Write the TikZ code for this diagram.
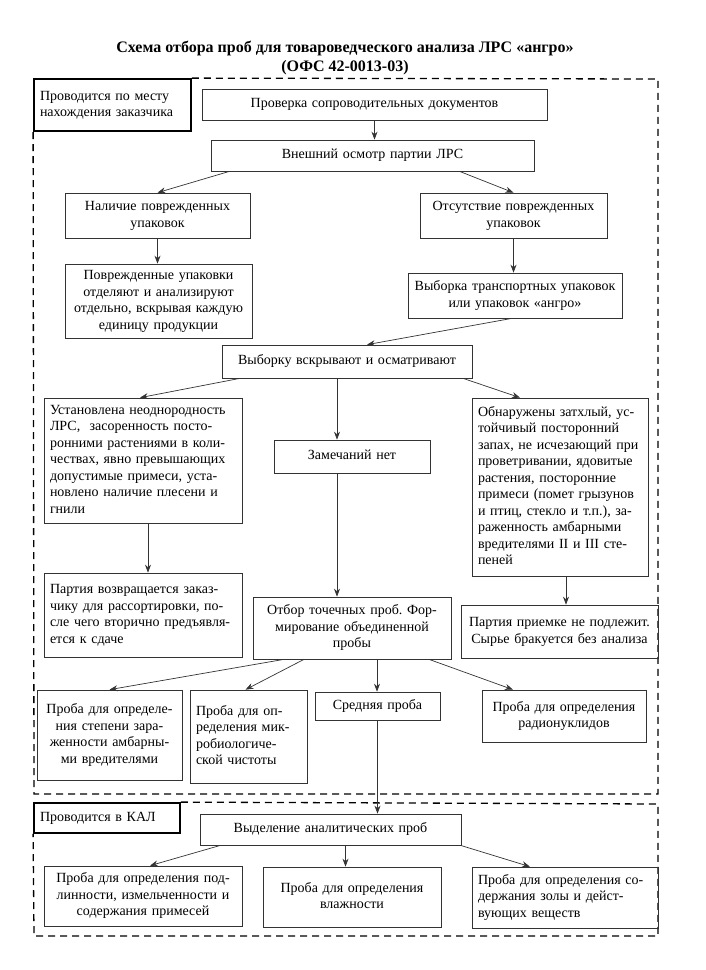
\documentclass[tikz,border=0pt]{standalone}
\usepackage{fontspec}
\setmainfont{Liberation Serif}
\usetikzlibrary{arrows.meta}
\frenchspacing

\tikzset{
box/.style={draw=black!80, line width=0.7pt, inner xsep=6pt, inner ysep=2pt, align=center, font=\fontsize{14}{16.5}\selectfont},
lbox/.style={align=left},
tagbox/.style={align=left, line width=1.8pt, draw=black},
arr/.style={-{Stealth[length=8pt,width=6pt]}, line width=0.7pt, draw=black!80},
region/.style={line width=1.3pt, dash pattern=on 7pt off 5pt},
}

% [options]{name}{x}{y}{width}{height}{l/c}{text}
\newcommand{\drawbox}[8][]{%
\pgfmathsetmacro{\boxtw}{#5-12}%
\node[box,minimum width=#5,minimum height=#6,text width=\boxtw pt,#1] (#2) at ({#3+#5/2},{#4+#6/2})
{\begin{tabular}{@{}#7@{}}#8\end{tabular}};
}

\begin{document}
\begin{tikzpicture}[x=1pt,y=-1pt]
\useasboundingbox (0,0) rectangle (705,970);

\node[align=center, font=\bfseries\fontsize{16}{19}\selectfont] (title) at (345,58)
{Схема отбора проб для товароведческого анализа ЛРС «ангро»\\(ОФС 42-0013-03)};

% upper part: at the customer
\drawbox[tagbox]{where}{34}{79}{157}{52}{l}{Проводится по месту\\нахождения заказчика}
\draw[region] (where.north east) -- (658,79) -- (658,794) -- (34,794) -- (where.south west);

\drawbox{check}{202}{89}{345}{31}{c}{Проверка сопроводительных документов}
\drawbox{outer}{211}{140}{323}{31}{c}{Внешний осмотр партии ЛРС}
\drawbox{damaged}{65}{193}{185}{45}{c}{Наличие поврежденных\\упаковок}
\drawbox{intact}{420}{193}{187}{45}{c}{Отсутствие поврежденных\\упаковок}
\drawbox{separate}{65}{264}{187}{74}{c}{Поврежденные упаковки\\отделяют и анализируют\\отдельно, вскрывая каждую\\единицу продукции}
\drawbox{sample}{408}{273}{214}{45}{c}{Выборка транспортных упаковок\\или упаковок «ангро»}
\drawbox{opened}{222}{345}{250}{33}{c}{Выборку вскрывают и осматривают}

\drawbox[lbox]{uneven}{44}{398}{198}{125}{l}{Установлена неоднородность\\ЛРС,\ \ засоренность посто-\\ронними растениями в коли-\\чествах, явно превышающих\\допустимые примеси, уста-\\новлено наличие плесени и\\гнили}
\drawbox{noremark}{274}{440}{156}{33}{c}{Замечаний нет}
\drawbox[lbox]{musty}{472}{398}{176}{178}{l}{Обнаружены затхлый, ус-\\тойчивый посторонний\\запах, не исчезающий при\\проветривании, ядовитые\\растения, посторонние\\примеси (помет грызунов\\и птиц, стекло и т.п.), за-\\раженность амбарными\\вредителями II и III сте-\\пеней}

\drawbox[lbox]{returned}{44}{573}{198}{84}{l}{Партия возвращается заказ-\\чику для рассортировки, по-\\сле чего вторично предъявля-\\ется к сдаче}
\drawbox{pooled}{253}{597}{198}{62}{c}{Отбор точечных проб. Фор-\\мирование объединенной\\пробы}
\drawbox{rejected}{461}{605}{197}{53}{c}{Партия приемке не подлежит.\\Сырье бракуется без анализа}

\drawbox{pests}{37}{690}{145}{90}{c}{Проба для определе-\\ния степени зара-\\женности амбарны-\\ми вредителями}
\drawbox[lbox]{micro}{190}{690}{117}{93}{l}{Проба для оп-\\ределения мик-\\робиологиче-\\ской чистоты}
\drawbox{average}{315}{692}{125}{28}{c}{Средняя проба}
\drawbox{radio}{482}{690}{164}{52}{c}{Проба для определения\\радионуклидов}

% lower part: in the lab
\drawbox[tagbox]{lab}{34}{803}{146}{30}{l}{Проводится в КАЛ}
\draw[region] (lab.north east) -- (658,804) -- (658,936) -- (34,936) -- (lab.south west);

\drawbox{analytic}{200}{814}{261}{31}{c}{Выделение аналитических проб}
\drawbox{identity}{44}{866}{198}{60}{c}{Проба для определения под-\\линности, измельченности и\\содержания примесей}
\drawbox{moisture}{263}{867}{178}{60}{c}{Проба для определения\\влажности}
\drawbox[lbox]{ash}{472}{867}{186}{61}{l}{Проба для определения со-\\держания золы и дейст-\\вующих веществ}

% arrows
\draw[arr] (check.south) -- (check.south |- outer.north);
\draw[arr] ([xshift=-143pt]outer.south) -- (damaged.north);
\draw[arr] ([xshift=87pt]outer.south) -- (intact.north);
\draw[arr] (damaged.south) -- (damaged.south |- separate.north);
\draw[arr] (intact.south) -- (intact.south |- sample.north);
\draw[arr] ([xshift=-3pt]sample.south) -- ([xshift=20pt]opened.north);
\draw[arr] ([xshift=-107pt]opened.south) -- ([xshift=-3pt]uneven.north);
\draw[arr] ([xshift=-10pt]opened.south) -- ([xshift=-10pt]opened.south |- noremark.north);
\draw[arr] ([xshift=116pt]opened.south) -- ([xshift=-40pt]musty.north);
\draw[arr] ([xshift=5pt]uneven.south) -- ([xshift=5pt]uneven.south |- returned.north);
\draw[arr] ([xshift=-15pt]noremark.south) -- ([xshift=-15pt]noremark.south |- pooled.north);
\draw[arr] ([xshift=6pt]musty.south) -- ([xshift=6pt]musty.south |- rejected.north);
\draw[arr] ([xshift=-68pt]pooled.south) -- (pests.north);
\draw[arr] ([xshift=-48pt]pooled.south) -- ([xshift=-3pt]micro.north);
\draw[arr] ([xshift=25pt]pooled.south) -- ([xshift=25pt]pooled.south |- average.north);
\draw[arr] ([xshift=77pt]pooled.south) -- ([xshift=-51pt]radio.north);
\draw[arr] (average.south) -- (average.south |- analytic.north);
\draw[arr] ([xshift=-110pt]analytic.south) -- ([xshift=7pt]identity.north);
\draw[arr] ([xshift=15pt]analytic.south) -- ([xshift=15pt]analytic.south |- moisture.north);
\draw[arr] ([xshift=130pt]analytic.south) -- ([xshift=-35pt]ash.north);
\end{tikzpicture}
\end{document}
